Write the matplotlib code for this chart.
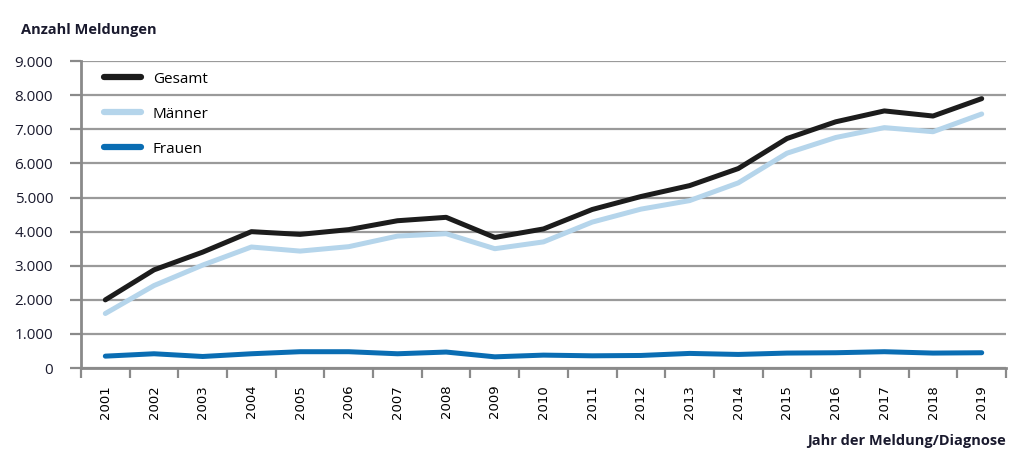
import numpy as np
import matplotlib.pyplot as plt
from matplotlib.ticker import FuncFormatter, FixedLocator

plt.rcParams['font.family'] = ['Open Sans', 'DejaVu Sans']

years = [str(y) for y in range(2001, 2020)]
gesamt = [2000, 2880, 3400, 4000, 3920, 4060, 4320, 4420, 3830, 4080,
          4650, 5030, 5350, 5850, 6730, 7220, 7540, 7390, 7900]
maenner = [1600, 2420, 3020, 3550, 3430, 3560, 3870, 3940, 3500, 3700,
           4280, 4660, 4910, 5430, 6300, 6760, 7050, 6930, 7450]
frauen = [350, 420, 340, 420, 480, 480, 420, 470, 330, 380,
          360, 370, 430, 400, 440, 450, 480, 440, 450]

fig = plt.figure(figsize=(10.29, 4.63), dpi=100)
ax = fig.add_axes([0.0787, 0.205, 0.899, 0.663])

x = np.arange(len(years))
ax.plot(x, gesamt, color='#1c1c1c', lw=3.6, solid_capstyle='round', label='Gesamt', zorder=3)
ax.plot(x, maenner, color='#b5d5eb', lw=3.6, solid_capstyle='round', label='Männer', zorder=3)
ax.plot(x, frauen, color='#0a6db3', lw=3.6, solid_capstyle='round', label='Frauen', zorder=3)

ax.set_xlim(-0.5, len(years) - 0.5)
ax.set_ylim(0, 9000)
ax.set_yticks(np.arange(0, 9001, 1000))
ax.yaxis.set_major_formatter(FuncFormatter(lambda v, p: f'{int(v):,}'.replace(',', '.')))
ax.grid(axis='y', color='#9a9a9a', lw=1.6, zorder=1)

ax.xaxis.set_major_locator(FixedLocator(np.arange(-0.5, len(years), 1.0)))
ax.xaxis.set_minor_locator(FixedLocator(x))
ax.set_xticklabels([])
ax.set_xticklabels(years, minor=True, rotation=90, fontsize=9.5, family=['DejaVu Sans'])
ax.tick_params(axis='x', which='major', length=7, width=1.6, color='#8a8a8a')
ax.tick_params(axis='x', which='minor', length=0, pad=12)
ax.tick_params(axis='y', length=8, width=1.6, color='#8a8a8a', labelsize=11, pad=12)
for lab in ax.get_yticklabels():
    lab.set_color('#1a1a2e')

for s in ['top', 'right']:
    ax.spines[s].set_visible(False)
for s in ['left', 'bottom']:
    ax.spines[s].set_color('#8a8a8a')
    ax.spines[s].set_linewidth(2)

leg = ax.legend(loc='upper left', frameon=False, fontsize=11, handlelength=2.4,
                labelspacing=1.3, bbox_to_anchor=(0.01, 1.01), handletextpad=0.8)
for line in leg.get_lines():
    line.set_linewidth(4.5)

fig.text(0.02, 0.935, 'Anzahl Meldungen', fontsize=10.5, fontweight='bold', color='#1a1a2e',
         va='center')
fig.text(0.978, 0.047, 'Jahr der Meldung/Diagnose', fontsize=10.5, fontweight='bold',
         color='#1a1a2e', ha='right', va='center')

fig.savefig('out.png', dpi=100)
